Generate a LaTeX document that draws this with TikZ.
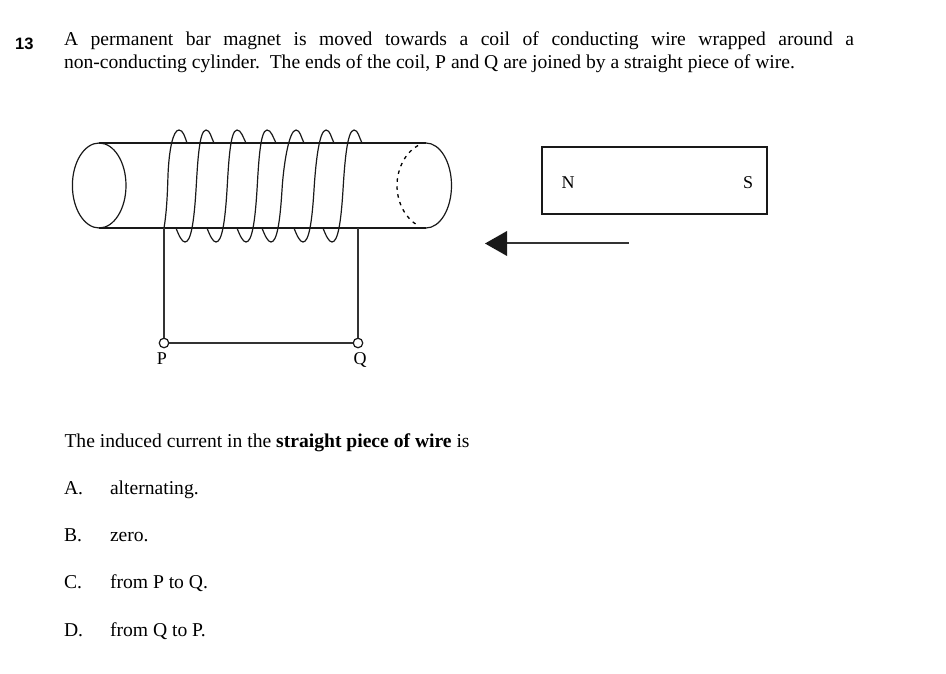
\documentclass[tikz,border=0pt]{standalone}
\usepackage{fontspec}
\setmainfont{Liberation Serif}
\newfontfamily\numfont{Liberation Sans}
\usetikzlibrary{arrows.meta}
\tikzset{
  x=1pt,y=-1pt,
  wire/.style={draw=black!80,line width=1.3pt},
  coilline/.style={draw=black!90,line width=1.2pt},
  hiddenedge/.style={draw=black,line width=1.3pt,dash pattern=on 3.5pt off 4.5pt},
  txt/.style={anchor=base west,inner sep=0pt,outer sep=0pt,font=\fontsize{19.6}{22}\selectfont,text=black},
  lbl/.style={inner sep=0pt,outer sep=0pt,font=\fontsize{18}{20}\selectfont,text=black},
  terminal/.style={circle,draw=black!90,line width=1.2pt,minimum size=9.5pt,inner sep=0pt,fill=none},
  magnetbox/.style={rectangle,draw=black!90,line width=1.2pt,minimum width=225pt,minimum height=67pt,inner sep=0pt,fill=none},
  arrowhead/.style={fill=black!90,draw=none},
}
\newcommand{\turn}[3]{% dip x, apex x, end x
  \path[coilline] (#1-9,228) .. controls (#1-6,236) and (#1-3,242) .. (#1,242)
    .. controls (#1+6,242) and (#1+9,222) .. (#1+11,190)
    .. controls (#1+12.5,165) and (#2-7,130) .. (#2,130)
    .. controls (#2+4,130) and (#3-3,137) .. (#3,143);
}
\begin{document}
\begin{tikzpicture}
\useasboundingbox (0,0) rectangle (946,674);
\node[anchor=base west,inner sep=0pt,font=\numfont\bfseries\fontsize{16.5}{20}\selectfont,text=black] (num) at (15,50) {13};
\node[txt] (l1) at (64,46) {\makebox[790pt][s]{A permanent bar magnet is moved towards a coil of conducting wire wrapped around a}};
\node[txt] (l2) at (64,69) {non-conducting cylinder.\ \ The ends of the coil, P and Q are joined by a straight piece of wire.};
% cylinder
\draw[coilline] (99.2,143) -- (426,143);
\draw[coilline] (99.2,228) -- (426,228);
\draw[coilline] (99.2,185.5) ellipse [x radius=26.8,y radius=42.5];
\draw[coilline] (426,143) arc [start angle=-90,end angle=90,x radius=25.5,y radius=42.5];
\draw[hiddenedge] (418,145.5) .. controls (406,152) and (397,168) .. (397,185.5) .. controls (397,203) and (406,219) .. (418,225.5);
% first turn
\path[coilline] (164,228) .. controls (167,210) and (167.5,190) .. (168,175) .. controls (169,150) and (173,130) .. (179,130) .. controls (183,130) and (185,137) .. (187,143);
\turn{185}{206}{214}
\turn{216}{237}{246}
\turn{246}{267}{276}
\turn{271}{296}{304}
\turn{303}{326}{334}
\turn{332}{354}{362}
% leads and terminals
\coordinate (la) at (164,228);
\coordinate (lb) at (358,228);
\node[terminal] (P) at (164,343) {};
\node[terminal] (Q) at (358,343) {};
\draw[wire] (la) -- (P);
\draw[wire] (lb) -- (Q);
\draw[wire] (P) -- (Q);
\node[lbl] (pl) at (162,359) {P};
\node[lbl] (ql) at (360,360) {Q};
% magnet
\node[magnetbox] (mag) at (654.5,180.5) {};
\node[lbl] (n) at (568,183) {N};
\node[lbl] (s) at (748,183) {S};
% arrow
\coordinate (a1) at (628.5,243);
\coordinate (a2) at (505,243);
\draw[wire] (a1) -- (a2);
\fill[arrowhead] (485,243.5) -- (507,231) -- (507,256) -- cycle;
% text
\node[txt] (t0) at (64.5,447) {The induced current in the \textbf{straight piece of wire} is};
\node[txt] (ka) at (64,494) {A.};
\node[txt] (va) at (110,494) {alternating.};
\node[txt] (kb) at (64,541) {B.};
\node[txt] (vb) at (110,541) {zero.};
\node[txt] (kc) at (64,588) {C.};
\node[txt] (vc) at (110,588) {from P to Q.};
\node[txt] (kd) at (64,636) {D.};
\node[txt] (vd) at (110,636) {from Q to P.};
\end{tikzpicture}
\end{document}
